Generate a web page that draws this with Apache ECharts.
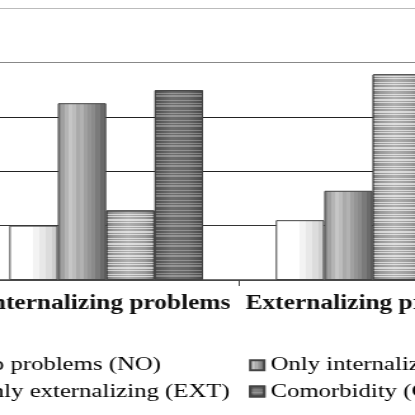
<!DOCTYPE html>
<html><head><meta charset="utf-8">
<script src="https://cdn.jsdelivr.net/npm/echarts@6/dist/echarts.min.js"></script>
<style>
html,body{margin:0;padding:0;width:415px;height:415px;overflow:hidden;background:#fff}
#wrap{width:415px;height:415px;overflow:hidden;position:relative}
#chart{width:327px;height:415px;transform:scaleX(1.2691);transform-origin:0 0;}
</style></head><body><div id="wrap"><div id="chart"></div></div>
<script>
const categories = ['Internalizing problems', 'Externalizing problems'];
const seriesNames = ['No problems (NO)', 'Only internalizing (INT)', 'Only externalizing (EXT)', 'Comorbidity (COM)'];
const noValues = [10.0, 11.0];
const intValues = [32.5, 16.4];
const extValues = [12.8, 37.8];
const comValues = [34.9, 39.0];
const yTickMin = 0, yTickMax = 50, yTickStep = 10;

function hGrad(stops) {
  return { type: 'linear', x: 0, y: 0, x2: 1, y2: 0,
    colorStops: stops.map(s => ({ offset: s[0], color: s[1] })) };
}
function bands(list) { // [[end, color], ...] -> hard stops
  const out = []; let start = 0;
  list.forEach(([end, c]) => { out.push([start, c]); out.push([end, c]); start = end; });
  return hGrad(out);
}
const fillNO = bands([[0.5,'#ffffff'],[0.62,'#f3f3f3'],[0.76,'#e8e8e8'],[0.89,'#dcdcdc'],[1,'#cecece']]);
const fillINT = bands([[0.06,'#8a8a8a'],[0.14,'#a0a0a0'],[0.22,'#b4b4b4'],[0.3,'#c6c6c6'],[0.38,'#bcbcbc'],[0.46,'#aaaaaa'],[0.54,'#b2b2b2'],[0.62,'#a0a0a0'],[0.7,'#949494'],[0.78,'#8a8a8a'],[0.88,'#7a7a7a'],[1,'#6a6a6a']]);
const fillEXT = hGrad([[0,'#7a7a7a'],[0.15,'#989898'],[0.45,'#b0b0b0'],[0.8,'#9a9a9a'],[1,'#767676']]);
const fillCOM = hGrad([[0,'#4e4e4e'],[0.35,'#6e6e6e'],[0.7,'#666666'],[1,'#484848']]);
const decalEXT = { symbol: 'rect', symbolSize: 1, dashArrayX: [1, 0], dashArrayY: [1, 2, 2, 1, 1, 3, 1, 1], color: 'rgba(255,255,255,0.6)', rotation: 0 };
const decalCOM = { symbol: 'rect', symbolSize: 1, dashArrayX: [1, 0], dashArrayY: [1, 2, 1, 1, 2, 3], color: 'rgba(255,255,255,0.28)', rotation: 0 };

const chart = echarts.init(document.getElementById('chart'), null, { renderer: 'canvas' });
const serif = 'Liberation Serif';
const legendBase = {
  orient: 'vertical', top: 355.3, itemWidth: 11, itemHeight: 10, itemGap: 6.2, padding: 0,
  icon: 'rect', selectedMode: false,
  textStyle: { fontFamily: serif, fontSize: 19.5, color: '#000' }
};
function barSeries(name, values, fill, decal) {
  const s = { name, type: 'bar', data: values, barGap: 0, barCategoryGap: '27.3%',
    itemStyle: { color: fill, borderColor: '#444', borderWidth: 1 } };
  if (decal) s.itemStyle.decal = decal;
  return s;
}
chart.setOption({
  animation: false,
  backgroundColor: '#fff',
  grid: { left: -21.3, top: 8, width: 419.9, height: 272, containLabel: false, outerBoundsMode: 'none' },
  xAxis: {
    type: 'category', data: categories,
    axisLine: { lineStyle: { color: '#444', width: 1.5 } },
    axisTick: { show: true, length: 6, lineStyle: { color: '#444' } },
    axisLabel: { interval: 0, fontFamily: serif, fontWeight: 'bold', fontSize: 20, color: '#111', margin: 14 }
  },
  yAxis: {
    type: 'value', min: yTickMin, max: yTickMax, interval: yTickStep,
    axisLabel: { show: false }, axisLine: { show: false }, axisTick: { show: false },
    splitLine: { show: true, lineStyle: { color: ['#555', '#333', '#222', '#222', '#888', '#bbb'], width: 1.2 } }
  },
  legend: [
    Object.assign({}, legendBase, { left: -37.5, data: [seriesNames[0], seriesNames[2]] }),
    Object.assign({}, legendBase, { left: 196.2, data: [seriesNames[1], seriesNames[3]] })
  ],
  series: [
    barSeries(seriesNames[0], noValues, fillNO),
    barSeries(seriesNames[1], intValues, fillINT),
    barSeries(seriesNames[2], extValues, fillEXT, decalEXT),
    barSeries(seriesNames[3], comValues, fillCOM, decalCOM)
  ]
});
</script></body></html>
